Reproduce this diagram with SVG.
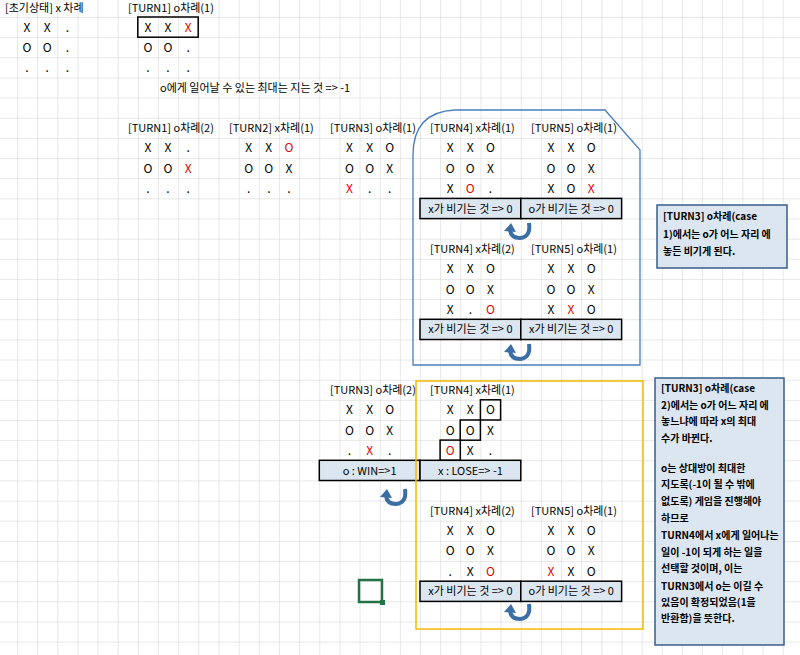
<svg xmlns="http://www.w3.org/2000/svg" width="800" height="655" viewBox="0 0 800 655">
<defs>
<pattern id="grid" patternUnits="userSpaceOnUse" x="17" y="17" width="20.15" height="20.15">
<path d="M0 0H20.15M0 0V20.15" stroke="#d0d0d0" stroke-width="1" fill="none"/>
</pattern>
<style>
text{font-family:"Noto Sans CJK KR","Noto Sans",sans-serif;font-size:11px;fill:#000}
.c{font-size:12px;text-anchor:middle}
.r{fill:#e00000}
.bar{fill:#dce6f1;stroke:#000;stroke-width:1.5}
.bt{text-anchor:middle;font-size:11px}
.n{font-size:10px;font-weight:bold}
.note{fill:#dce6f1;stroke:#385d8a;stroke-width:1.5}
.box{fill:none;stroke:#000;stroke-width:1.5}
.arr{fill:none;stroke:#3a6ea5;stroke-width:4}
.ah{fill:#3a6ea5}
</style>
</defs>
<rect width="800" height="655" fill="#fff"/>
<rect width="800" height="655" fill="url(#grid)"/>

<g id="initial">
<text x="5" y="12">[초기상태] x 차례</text>
<text class="c" x="27" y="31.5">X</text><text class="c" x="47.2" y="31.5">X</text><text class="c" x="67.3" y="31.5">.</text>
<text class="c" x="27" y="51.6">O</text><text class="c" x="47.2" y="51.6">O</text><text class="c" x="67.3" y="51.6">.</text>
<text class="c" x="27" y="71.8">.</text><text class="c" x="47.2" y="71.8">.</text><text class="c" x="67.3" y="71.8">.</text>
</g>

<g id="turn1-1">
<text x="128" y="12">[TURN1] o차례(1)</text>
<rect class="box" x="137.8" y="17" width="60.4" height="20.2"/>
<text class="c" x="148" y="31.5">X</text><text class="c" x="168" y="31.5">X</text><text class="c r" x="188.2" y="31.5">X</text>
<text class="c" x="148" y="51.6">O</text><text class="c" x="168" y="51.6">O</text><text class="c" x="188.2" y="51.6">.</text>
<text class="c" x="148" y="71.8">.</text><text class="c" x="168" y="71.8">.</text><text class="c" x="188.2" y="71.8">.</text>
<text x="160" y="92">o에게 일어날 수 있는 최대는 지는 것 =&gt; -1</text>
</g>

<g id="turn1-2">
<text x="128" y="132">[TURN1] o차례(2)</text>
<text class="c" x="148" y="152.4">X</text><text class="c" x="168" y="152.4">X</text><text class="c" x="188.2" y="152.4">.</text>
<text class="c" x="148" y="172.6">O</text><text class="c" x="168" y="172.6">O</text><text class="c r" x="188.2" y="172.6">X</text>
<text class="c" x="148" y="192.7">.</text><text class="c" x="168" y="192.7">.</text><text class="c" x="188.2" y="192.7">.</text>
</g>

<g id="turn2-1">
<text x="229" y="132">[TURN2] x차례(1)</text>
<text class="c" x="248.7" y="152.4">X</text><text class="c" x="268.8" y="152.4">X</text><text class="c r" x="289" y="152.4">O</text>
<text class="c" x="248.7" y="172.6">O</text><text class="c" x="268.8" y="172.6">O</text><text class="c" x="289" y="172.6">X</text>
<text class="c" x="248.7" y="192.7">.</text><text class="c" x="268.8" y="192.7">.</text><text class="c" x="289" y="192.7">.</text>
</g>

<g id="turn3-1">
<text x="330" y="132">[TURN3] o차례(1)</text>
<text class="c" x="349.4" y="152.4">X</text><text class="c" x="369.6" y="152.4">X</text><text class="c" x="389.7" y="152.4">O</text>
<text class="c" x="349.4" y="172.6">O</text><text class="c" x="369.6" y="172.6">O</text><text class="c" x="389.7" y="172.6">X</text>
<text class="c r" x="349.4" y="192.7">X</text><text class="c" x="369.6" y="192.7">.</text><text class="c" x="389.7" y="192.7">.</text>
</g>

<g id="case1-frame">
<path d="M413 365 V155 Q413 112 455 110 H605 L640 150 V365 Z" fill="none" stroke="#4a7ebb" stroke-width="1.3"/>
</g>

<g id="c1-turn4-1">
<text x="430" y="132">[TURN4] x차례(1)</text>
<text class="c" x="450.2" y="152.4">X</text><text class="c" x="470.3" y="152.4">X</text><text class="c" x="490.5" y="152.4">O</text>
<text class="c" x="450.2" y="172.6">O</text><text class="c" x="470.3" y="172.6">O</text><text class="c" x="490.5" y="172.6">X</text>
<text class="c" x="450.2" y="192.7">X</text><text class="c r" x="470.3" y="192.7">O</text><text class="c" x="490.5" y="192.7">.</text>
</g>
<g id="c1-turn5-1">
<text x="531" y="132">[TURN5] o차례(1)</text>
<text class="c" x="550.9" y="152.4">X</text><text class="c" x="571" y="152.4">X</text><text class="c" x="591.2" y="152.4">O</text>
<text class="c" x="550.9" y="172.6">O</text><text class="c" x="571" y="172.6">O</text><text class="c" x="591.2" y="172.6">X</text>
<text class="c" x="550.9" y="192.7">X</text><text class="c" x="571" y="192.7">O</text><text class="c r" x="591.2" y="192.7">X</text>
</g>
<g id="c1-bar1">
<rect class="bar" x="420" y="198.4" width="100.8" height="20.2"/>
<rect class="bar" x="520.8" y="198.4" width="100.8" height="20.2"/>
<text class="bt" x="470.4" y="212.5">x가 비기는 것 =&gt; 0</text>
<text class="bt" x="571.2" y="212.5">o가 비기는 것 =&gt; 0</text>
</g>

<g id="c1-turn4-2">
<text x="430" y="253">[TURN4] x차례(2)</text>
<text class="c" x="450.2" y="273.3">X</text><text class="c" x="470.3" y="273.3">X</text><text class="c" x="490.5" y="273.3">O</text>
<text class="c" x="450.2" y="293.5">O</text><text class="c" x="470.3" y="293.5">O</text><text class="c" x="490.5" y="293.5">X</text>
<text class="c" x="450.2" y="313.6">X</text><text class="c" x="470.3" y="313.6">.</text><text class="c r" x="490.5" y="313.6">O</text>
</g>
<g id="c1-turn5-2">
<text x="531" y="253">[TURN5] o차례(1)</text>
<text class="c" x="550.9" y="273.3">X</text><text class="c" x="571" y="273.3">X</text><text class="c" x="591.2" y="273.3">O</text>
<text class="c" x="550.9" y="293.5">O</text><text class="c" x="571" y="293.5">O</text><text class="c" x="591.2" y="293.5">X</text>
<text class="c" x="550.9" y="313.6">X</text><text class="c r" x="571" y="313.6">X</text><text class="c" x="591.2" y="313.6">O</text>
</g>
<g id="c1-bar2">
<rect class="bar" x="420" y="319.3" width="100.8" height="20.2"/>
<rect class="bar" x="520.8" y="319.3" width="100.8" height="20.2"/>
<text class="bt" x="470.4" y="333.4">x가 비기는 것 =&gt; 0</text>
<text class="bt" x="571.2" y="333.4">x가 비기는 것 =&gt; 0</text>
</g>

<g id="note1">
<rect class="note" x="657" y="205" width="130" height="63"/>
<text class="n" x="663" y="220">[TURN3] o차례(case</text>
<text class="n" x="663" y="238">1)에서는 o가 어느 자리 에</text>
<text class="n" x="663" y="255">놓든 비기게 된다.</text>
</g>

<g id="turn3-2">
<text x="330" y="394">[TURN3] o차례(2)</text>
<text class="c" x="349.4" y="414.4">X</text><text class="c" x="369.6" y="414.4">X</text><text class="c" x="389.7" y="414.4">O</text>
<text class="c" x="349.4" y="434.5">O</text><text class="c" x="369.6" y="434.5">O</text><text class="c" x="389.7" y="434.5">X</text>
<text class="c" x="349.4" y="454.7">.</text><text class="c r" x="369.6" y="454.7">X</text><text class="c" x="389.7" y="454.7">.</text>
<rect class="bar" x="319.3" y="460.3" width="100.7" height="20.2"/>
<text class="bt" x="369.6" y="474.5">o : WIN=&gt;1</text>
</g>

<g id="case2-frame">
<rect x="416" y="381" width="227" height="248" fill="none" stroke="#f5b800" stroke-width="1.5"/>
</g>

<g id="c2-turn4-1">
<text x="430" y="394">[TURN4] x차례(1)</text>
<rect class="box" x="480.4" y="399.8" width="20.2" height="20.2"/>
<rect class="box" x="460.2" y="420" width="20.2" height="20.2"/>
<rect class="box" x="440.1" y="440.1" width="20.2" height="20.2"/>
<text class="c" x="450.2" y="414.4">X</text><text class="c" x="470.3" y="414.4">X</text><text class="c" x="490.5" y="414.4">O</text>
<text class="c" x="450.2" y="434.5">O</text><text class="c" x="470.3" y="434.5">O</text><text class="c" x="490.5" y="434.5">X</text>
<text class="c r" x="450.2" y="454.7">O</text><text class="c" x="470.3" y="454.7">X</text><text class="c" x="490.5" y="454.7">.</text>
<rect class="bar" x="420" y="460.3" width="100.8" height="20.2"/>
<text class="bt" x="470.4" y="474.5">x : LOSE=&gt; -1</text>
</g>

<g id="c2-turn4-2">
<text x="430" y="515">[TURN4] x차례(2)</text>
<text class="c" x="450.2" y="535.3">X</text><text class="c" x="470.3" y="535.3">X</text><text class="c" x="490.5" y="535.3">O</text>
<text class="c" x="450.2" y="555.4">O</text><text class="c" x="470.3" y="555.4">O</text><text class="c" x="490.5" y="555.4">X</text>
<text class="c" x="450.2" y="575.5">.</text><text class="c" x="470.3" y="575.5">X</text><text class="c r" x="490.5" y="575.5">O</text>
</g>
<g id="c2-turn5-1">
<text x="531" y="515">[TURN5] o차례(1)</text>
<text class="c" x="550.9" y="535.3">X</text><text class="c" x="571" y="535.3">X</text><text class="c" x="591.2" y="535.3">O</text>
<text class="c" x="550.9" y="555.4">O</text><text class="c" x="571" y="555.4">O</text><text class="c" x="591.2" y="555.4">X</text>
<text class="c r" x="550.9" y="575.5">X</text><text class="c" x="571" y="575.5">X</text><text class="c" x="591.2" y="575.5">O</text>
</g>
<g id="c2-bar">
<rect class="bar" x="420" y="581.2" width="100.8" height="20.2"/>
<rect class="bar" x="520.8" y="581.2" width="100.8" height="20.2"/>
<text class="bt" x="470.4" y="595.3">x가 비기는 것 =&gt; 0</text>
<text class="bt" x="571.2" y="595.3">o가 비기는 것 =&gt; 0</text>
</g>

<g id="note2">
<rect class="note" x="655" y="378" width="129" height="267"/>
<text class="n" x="661" y="392">[TURN3] o차례(case</text>
<text class="n" x="661" y="409">2)에서는 o가 어느 자리 에</text>
<text class="n" x="661" y="425">놓느냐에 따라 x의 최대</text>
<text class="n" x="661" y="442">수가 바뀐다.</text>
<text class="n" x="661" y="472">o는 상대방이 최대한</text>
<text class="n" x="661" y="488">지도록(-1이 될 수 밖에</text>
<text class="n" x="661" y="505">없도록) 게임을 진행해야</text>
<text class="n" x="661" y="522">하므로</text>
<text class="n" x="661" y="539">TURN4에서 x에게 일어나는</text>
<text class="n" x="661" y="556">일이 -1이 되게 하는 일을</text>
<text class="n" x="661" y="572">선택할 것이며, 이는</text>
<text class="n" x="661" y="590">TURN3에서 o는 이길 수</text>
<text class="n" x="661" y="606">있음이 확정되었음(1을</text>
<text class="n" x="661" y="622">반환함)을 뜻한다.</text>
</g>

<g id="selection">
<rect x="359" y="580" width="23" height="22" fill="none" stroke="#217346" stroke-width="2.5"/>
<rect x="380" y="600" width="5" height="5" fill="#217346"/>
</g>

<g id="connectors">
<path class="arr" d="M529 223 Q531 237 520 238 Q511 238 510 230"/>
<polygon class="ah" points="504,231 511,223 516,232"/>
<path class="arr" d="M529 344 Q531 358 520 359 Q511 359 510 351"/>
<polygon class="ah" points="504,352 511,344 516,353"/>
<path class="arr" d="M405 489 Q407 503 396 504 Q387 504 386 496"/>
<polygon class="ah" points="380,497 387,489 392,498"/>
<path class="arr" d="M529 604 Q531 618 520 619 Q511 619 510 611"/>
<polygon class="ah" points="504,612 511,604 516,613"/>
</g>
</svg>
